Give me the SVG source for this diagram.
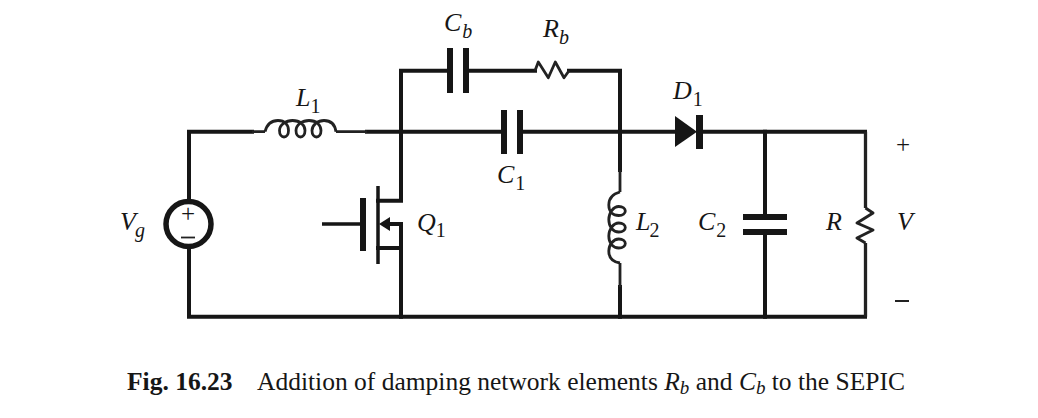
<svg xmlns="http://www.w3.org/2000/svg" width="1038" height="418" viewBox="0 0 1038 418">
<style>
.w{fill:none;stroke:#161616;stroke-width:4;stroke-linecap:square;stroke-linejoin:miter}
.t{fill:none;stroke:#222;stroke-width:2.800;stroke-linejoin:round}
.p{fill:#161616;stroke:none}
text{font-family:"Liberation Serif","Times New Roman",serif;fill:#161616}
.l{font-size:26px;font-style:italic}
.s{font-size:20px;font-style:normal}
.si{font-size:20px;font-style:italic}
.c{font-size:25.500px}
.ci{font-size:19px;font-style:italic}
.pm{font-size:25px;font-style:normal}
</style>
<defs>
<path id="coil" d="M265 131.700C267 124 272 120.500 278 120.500C285 120.500 288.500 125 288.500 130.500C288.500 134.500 286.500 137 284 137C281.500 137 279.500 134.500 279.500 130.500C279.500 125 286 120.500 292.500 120.500C300 120.500 305 125 305 130.500C305 134.500 303 137 300.500 137C298 137 296 134.500 296 130.500C296 125 302.500 120.500 309 120.500C316.500 120.500 321 125 321 130.500C321 134.500 319 137 316.500 137C314 137 312 134.500 312 130.500C312 125 318 120.500 324 120.500C331 120.500 335 125 336 131.700"/>
</defs>
<g id="wires">
<path class="w" d="M252 131.700H189V316.700H865M865 131.700H703M675 131.700H520M504 131.700H367"/>
<path class="w" d="M401 131.700V70.700H450M466 70.700H535M569 70.700H620V170"/>
<path class="w" d="M620 287V316.700M765 131.700V217M765 232V316.700"/>
<path class="w" d="M401 131.700V200.700H378M378 248H401V316.700M390 224H401V248"/>
<path class="t" d="M252 131.700H265M336 131.700H367M620 170V192M620 263V287"/>
<path class="t" style="stroke-width:3.300" d="M865.500 131.700V208M865.500 243V316.700"/>
</g>
<g id="Vg">
<circle cx="188.500" cy="224" r="22.500" fill="#fff" stroke="#161616" stroke-width="5.500"/>
<text x="188" y="222" class="pm" text-anchor="middle">+</text>
<path d="M181 237.500H195" stroke="#222" stroke-width="1.800"/>
<text x="120" y="230" class="l">V<tspan class="si" dy="7" dx="-1">g</tspan></text>
</g>
<g id="L1">
<use href="#coil" class="t"/>
<text x="296" y="106" class="l">L<tspan class="s" dy="7">1</tspan></text>
</g>
<g id="Q1">
<path class="w" style="stroke-width:3.500;stroke-linecap:butt" d="M322 224H362M378 186V264"/>
<rect class="p" x="360" y="198" width="6" height="53"/>
<path class="p" d="M379 224L390 217V231Z"/>
<text x="417" y="231" class="l">Q<tspan class="s" dy="6">1</tspan></text>
</g>
<g id="Cb">
<rect class="p" x="447" y="48" width="6" height="45"/>
<rect class="p" x="463" y="48" width="6" height="45"/>
<text x="444" y="31" class="l">C<tspan class="si" dy="7" dx="1">b</tspan></text>
</g>
<g id="Rb">
<path class="t" d="M535 70.700L538.300 62L548.300 77.700L555.300 62L564 77.700L569 70.700"/>
<text x="543" y="37" class="l">R<tspan class="si" dy="7">b</tspan></text>
</g>
<g id="C1">
<rect class="p" x="501" y="110" width="6" height="44"/>
<rect class="p" x="517" y="110" width="6" height="44"/>
<text x="497" y="183" class="l">C<tspan class="s" dy="7" dx="1">1</tspan></text>
</g>
<g id="D1">
<path class="p" d="M675 116L697 131.700L675 147Z"/>
<rect class="p" x="696" y="115" width="7" height="34"/>
<text x="673" y="99" class="l">D<tspan class="s" dy="7" dx="1">1</tspan></text>
</g>
<g id="L2">
<use href="#coil" class="t" transform="matrix(0 1 1 0 488.300 -73)"/>
<text x="636" y="230" class="l">L<tspan class="s" dy="7" dx="-1">2</tspan></text>
</g>
<g id="C2">
<rect class="p" x="743" y="214" width="44" height="6"/>
<rect class="p" x="743" y="229" width="44" height="6"/>
<text x="698" y="230" class="l">C<tspan class="s" dy="7" dx="1">2</tspan></text>
</g>
<g id="R">
<path class="t" style="stroke-width:3" d="M865.500 208L873 213L857 223L873 230L857 238L865.500 243"/>
<text x="826" y="230" class="l">R</text>
</g>
<g id="V">
<text x="897" y="230" class="l">V</text>
<text x="903" y="153" class="pm" text-anchor="middle">+</text>
<path d="M895 301H909" stroke="#222" stroke-width="2"/>
</g>
<g id="caption">
<text x="127" y="390" class="c" font-weight="bold">Fig. 16.23</text>
<text x="257" y="390" class="c">Addition of damping network elements <tspan font-style="italic">R<tspan class="ci" dy="4">b</tspan></tspan><tspan dy="-4"> and </tspan><tspan font-style="italic">C<tspan class="ci" dy="4">b</tspan></tspan><tspan dy="-4"> to the SEPIC</tspan></text>
</g>
</svg>
